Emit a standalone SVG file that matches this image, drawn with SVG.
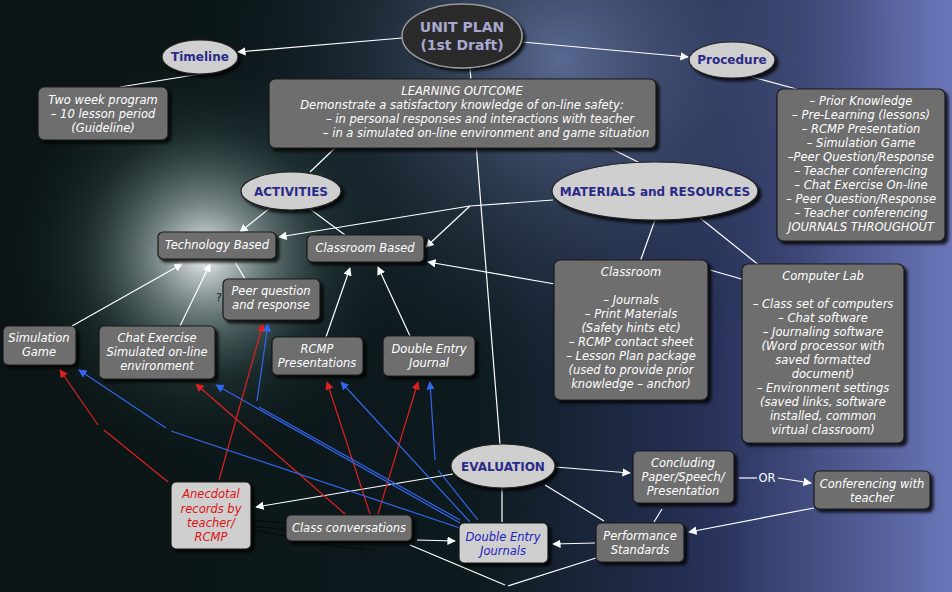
<svg xmlns="http://www.w3.org/2000/svg" width="952" height="592" viewBox="0 0 952 592">
<defs>
<linearGradient id="bg" x1="0" y1="0" x2="1" y2="0">
<stop offset="0" stop-color="#0b1414"/><stop offset="0.5" stop-color="#0d1a1e"/><stop offset="0.75" stop-color="#28325a"/><stop offset="1" stop-color="#6a76b8"/>
</linearGradient>
<radialGradient id="glow" cx="205" cy="255" r="210" gradientUnits="userSpaceOnUse">
<stop offset="0" stop-color="#ffffff" stop-opacity="0.95"/><stop offset="0.25" stop-color="#b8cccc" stop-opacity="0.6"/><stop offset="0.6" stop-color="#3a5858" stop-opacity="0.3"/><stop offset="1" stop-color="#0b1414" stop-opacity="0"/>
</radialGradient>
<radialGradient id="top" cx="560" cy="60" r="340" gradientUnits="userSpaceOnUse">
<stop offset="0" stop-color="#6a7aa8" stop-opacity="0.8"/><stop offset="1" stop-color="#1a2a3a" stop-opacity="0"/>
</radialGradient>
<marker id="aw" viewBox="0 0 10 10" refX="9" refY="5" markerWidth="7" markerHeight="7" orient="auto-start-reverse"><path d="M0,0L10,5L0,10z" fill="#fff"/></marker>
<marker id="ar" viewBox="0 0 10 10" refX="9" refY="5" markerWidth="7" markerHeight="7" orient="auto"><path d="M0,0L10,5L0,10z" fill="#e02020"/></marker>
<marker id="ab" viewBox="0 0 10 10" refX="9" refY="5" markerWidth="7" markerHeight="7" orient="auto"><path d="M0,0L10,5L0,10z" fill="#3366ee"/></marker>
<filter id="sh" x="-10%" y="-10%" width="130%" height="140%"><feDropShadow dx="3" dy="3" stdDeviation="1.5" flood-color="#000" flood-opacity="0.8"/></filter>
</defs>
<style>
.b{fill:#6e6e6e;stroke:#1a1a1a;stroke-width:1.2;filter:url(#sh)}
.l{fill:#cfcfcf;stroke:#1a1a1a;stroke-width:1.2;filter:url(#sh)}
.e{fill:#cfcfcf;stroke:#222;stroke-width:1.2;filter:url(#sh)}
text{font-family:"DejaVu Sans",Verdana,sans-serif;font-size:11.5px;font-style:italic;fill:#fff;text-anchor:middle}
.h{font-style:normal;font-weight:bold;fill:#2a2a88;font-size:12px}
.w{stroke:#fff;stroke-width:1.2;fill:none}
.r{stroke:#e02020;stroke-width:1.2;fill:none}
.bl{stroke:#3366ee;stroke-width:1.2;fill:none}
</style>
<rect width="952" height="592" fill="url(#bg)"/>
<rect width="952" height="592" fill="url(#top)"/>
<rect width="952" height="592" fill="url(#glow)"/>
<g id="connectors">
<line class="w" x1="402" y1="38" x2="238" y2="52" marker-end="url(#aw)"/>
<line class="w" x1="522" y1="42" x2="688" y2="57" marker-end="url(#aw)"/>
<line class="w" x1="200" y1="74" x2="120" y2="87"/>
<line class="w" x1="752" y1="77" x2="800" y2="90"/>
<line class="w" x1="470" y1="68" x2="500" y2="444"/>
<line class="w" x1="335" y1="148" x2="310" y2="172"/>
<line class="w" x1="610" y1="148" x2="640" y2="163"/>
<line class="w" x1="270" y1="208" x2="240" y2="232" marker-end="url(#aw)"/>
<line class="w" x1="310" y1="209" x2="345" y2="235"/>
<line class="w" x1="553" y1="200" x2="470" y2="206"/>
<line class="w" x1="470" y1="206" x2="279" y2="237" marker-end="url(#aw)"/>
<line class="w" x1="470" y1="206" x2="426" y2="247" marker-end="url(#aw)"/>
<line class="w" x1="655" y1="220" x2="640" y2="262"/>
<line class="w" x1="700" y1="218" x2="760" y2="266"/>
<line class="w" x1="555" y1="284" x2="428" y2="262" marker-end="url(#aw)"/>
<line class="w" x1="72" y1="326" x2="182" y2="264" marker-end="url(#aw)"/>
<line class="w" x1="180" y1="326" x2="210" y2="264" marker-end="url(#aw)"/>
<line class="w" x1="245" y1="279" x2="235" y2="262"/>
<line class="w" x1="326" y1="337" x2="350" y2="268" marker-end="url(#aw)"/>
<line class="w" x1="410" y1="336" x2="378" y2="267" marker-end="url(#aw)"/>
<line class="w" x1="745" y1="280" x2="710" y2="270"/>
<line class="w" x1="453" y1="474" x2="256" y2="507" marker-end="url(#aw)"/>
<line class="w" x1="555" y1="467" x2="630" y2="473" marker-end="url(#aw)"/>
<line class="w" x1="739" y1="478" x2="757" y2="478"/>
<line class="w" x1="778" y1="478" x2="811" y2="483" marker-end="url(#aw)"/>
<line class="w" x1="814" y1="508" x2="689" y2="532" marker-end="url(#aw)"/>
<line class="w" x1="595" y1="543" x2="553" y2="544" marker-end="url(#aw)"/>
<line class="w" x1="417" y1="540" x2="455" y2="541" marker-end="url(#aw)"/>
<line class="w" x1="545" y1="485" x2="604" y2="521"/>
<line class="w" x1="502" y1="488" x2="502" y2="522"/>
<line class="w" x1="662" y1="509" x2="654" y2="522"/>
<line class="w" x1="410" y1="545" x2="505" y2="585"/>
<line class="w" x1="596" y1="558" x2="508" y2="586"/>
<path d="M253,520L286,523M253,526L286,530M253,530L330,545L365,550" stroke="#0a0a0a" stroke-width="1.2" fill="none"/>
<path class="r" d="M168,482L104,430M98,425L60,370" marker-end="url(#ar)"/>
<path class="r" d="M219,480L263,324" marker-end="url(#ar)"/>
<path class="r" d="M345,514L196,384" marker-end="url(#ar)"/>
<path class="r" d="M370,514L327,382" marker-end="url(#ar)"/>
<path class="r" d="M378,514L418,382" marker-end="url(#ar)"/>
<path class="bl" d="M166,428L79,370" marker-end="url(#ab)"/>
<path class="bl" d="M460,528L171,431"/>
<path class="bl" d="M460,523L216,385" marker-end="url(#ab)"/>
<path class="bl" d="M460,520L259,407"/>
<path class="bl" d="M257,401L268,324" marker-end="url(#ab)"/>
<path class="bl" d="M470,522L341,382" marker-end="url(#ab)"/>
<path class="bl" d="M435,460L430,382" marker-end="url(#ab)"/>
<path class="bl" d="M478,520L438,470"/>
</g>
<g id="unitplan"><ellipse cx="462" cy="36" rx="60" ry="32" fill="#2a2a2a" stroke="#999" stroke-width="1.5" filter="url(#sh)"/><text class="h" x="462" y="32" style="fill:#a8a8d0;font-size:14px">UNIT PLAN</text><text class="h" x="462" y="50" style="fill:#a8a8d0;font-size:14px">(1st Draft)</text></g>
<g id="timeline"><ellipse class="e" cx="200" cy="57" rx="38" ry="17"/><text class="h" x="200" y="61">Timeline</text></g>
<g id="procedure"><ellipse class="e" cx="732" cy="60" rx="43" ry="18"/><text class="h" x="732" y="64">Procedure</text></g>
<g id="twoweek"><rect class="b" x="38" y="87" width="130" height="53" rx="6"/><text x="103" y="104">Two week program</text><text x="103" y="118">– 10 lesson period</text><text x="103" y="132">(Guideline)</text></g>
<g id="outcome"><rect class="b" x="269" y="79" width="387" height="69" rx="6"/><text x="462" y="95">LEARNING OUTCOME</text><text x="462" y="109">Demonstrate a satisfactory knowledge of on-line safety:</text><text x="480" y="123">– in personal responses and interactions with teacher</text><text x="486" y="137">– in a simulated on-line environment and game situation</text></g>
<g id="procbox"><rect class="b" x="777" y="89" width="168" height="152" rx="6"/><text x="861" y="105">– Prior Knowledge</text><text x="861" y="119">– Pre-Learning (lessons)</text><text x="861" y="133">– RCMP Presentation</text><text x="861" y="147">– Simulation Game</text><text x="861" y="161">–Peer Question/Response</text><text x="861" y="175">– Teacher conferencing</text><text x="861" y="189">– Chat Exercise On-line</text><text x="861" y="203">– Peer Question/Response</text><text x="861" y="217">– Teacher conferencing</text><text x="861" y="231">JOURNALS THROUGHOUT</text></g>
<g id="activities"><ellipse class="e" cx="291" cy="191" rx="50" ry="19"/><text class="h" x="291" y="196">ACTIVITIES</text></g>
<g id="materials"><ellipse class="e" cx="655" cy="191" rx="103" ry="29"/><text class="h" x="655" y="196">MATERIALS and RESOURCES</text></g>
<g id="tech"><rect class="b" x="158" y="232" width="118" height="27" rx="5"/><text x="217" y="249">Technology Based</text></g>
<g id="classbased"><rect class="b" x="307" y="235" width="117" height="27" rx="5"/><text x="365" y="252">Classroom Based</text></g>
<g id="peer"><rect class="b" x="223" y="279" width="97" height="41" rx="5"/><text x="271" y="295">Peer question</text><text x="271" y="309">and response</text></g>
<text x="219" y="301" style="fill:#111;font-style:normal;font-size:11px">?</text>
<g id="simgame"><rect class="b" x="3" y="326" width="73" height="39" rx="5"/><text x="39" y="342">Simulation</text><text x="39" y="356">Game</text></g>
<g id="chat"><rect class="b" x="99" y="326" width="116" height="53" rx="5"/><text x="157" y="342">Chat Exercise</text><text x="157" y="356">Simulated on-line</text><text x="157" y="370">environment</text></g>
<g id="rcmp"><rect class="b" x="272" y="337" width="91" height="38" rx="5"/><text x="317" y="353">RCMP</text><text x="317" y="367">Presentations</text></g>
<g id="dej"><rect class="b" x="383" y="336" width="92" height="40" rx="5"/><text x="429" y="353">Double Entry</text><text x="429" y="367">Journal</text></g>
<g id="classroom"><rect class="b" x="554" y="260" width="154" height="140" rx="6"/><text x="631" y="276">Classroom</text><text x="631" y="304">– Journals</text><text x="631" y="318">– Print Materials</text><text x="631" y="332">(Safety hints etc)</text><text x="631" y="346">– RCMP contact sheet</text><text x="631" y="360">– Lesson Plan package</text><text x="631" y="374">(used to provide prior</text><text x="631" y="388">knowledge – anchor)</text></g>
<g id="complab"><rect class="b" x="742" y="264" width="162" height="179" rx="6"/><text x="823" y="280">Computer Lab</text><text x="823" y="308">– Class set of computers</text><text x="823" y="322">– Chat software</text><text x="823" y="336">– Journaling software</text><text x="823" y="350">(Word processor with</text><text x="823" y="364">saved formatted</text><text x="823" y="378">document)</text><text x="823" y="392">– Environment settings</text><text x="823" y="406">(saved links, software</text><text x="823" y="420">installed, common</text><text x="823" y="434">virtual classroom)</text></g>
<g id="evaluation"><ellipse class="e" cx="503" cy="466" rx="52" ry="22"/><text class="h" x="503" y="471">EVALUATION</text></g>
<g id="concluding"><rect class="b" x="633" y="451" width="101" height="52" rx="5"/><text x="683" y="467">Concluding</text><text x="683" y="481">Paper/Speech/</text><text x="683" y="495">Presentation</text></g>
<text x="767" y="482" style="font-style:normal">OR</text>
<g id="conferencing"><rect class="b" x="814" y="471" width="116" height="38" rx="5"/><text x="872" y="488">Conferencing with</text><text x="872" y="502">teacher</text></g>
<g id="anecdotal"><rect class="l" x="171" y="482" width="80" height="67" rx="5"/><text x="211" y="498" style="fill:#dd1111">Anecdotal</text><text x="211" y="513" style="fill:#dd1111">records by</text><text x="211" y="527" style="fill:#dd1111">teacher/</text><text x="211" y="541" style="fill:#dd1111">RCMP</text></g>
<g id="classconv"><rect class="b" x="286" y="515" width="126" height="26" rx="5"/><text x="349" y="532">Class conversations</text></g>
<text x="365" y="555" style="fill:#111;font-style:normal;font-size:11px">????</text>
<g id="dejournals"><rect class="l" x="459" y="523" width="89" height="40" rx="5"/><text x="503" y="541" style="fill:#2222bb">Double Entry</text><text x="503" y="555" style="fill:#2222bb">Journals</text></g>
<g id="performance"><rect class="b" x="596" y="523" width="88" height="39" rx="5"/><text x="640" y="540">Performance</text><text x="640" y="554">Standards</text></g>
</svg>
